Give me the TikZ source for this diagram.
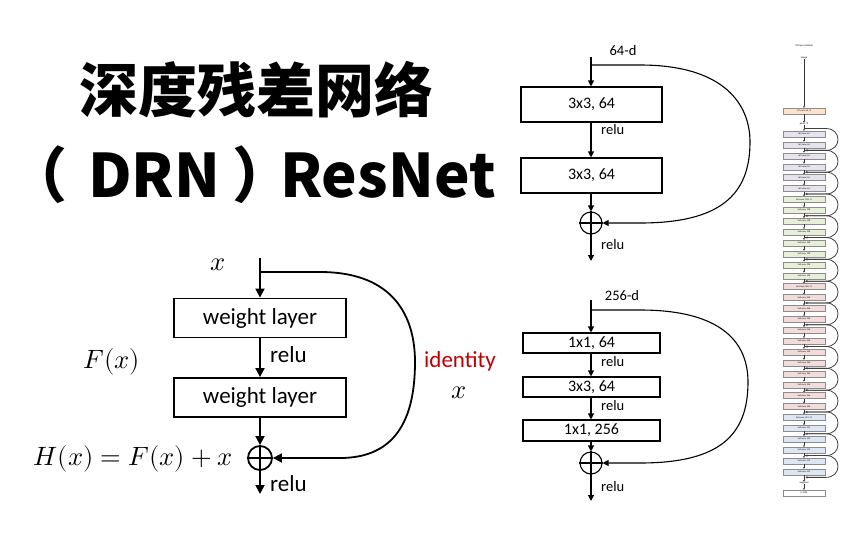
\documentclass[tikz,border=0pt]{standalone}
\usepackage{fontspec}
\usepackage{unicode-math}
\setmainfont{Carlito}
\newfontfamily\cjk{Noto Sans CJK SC}
\usetikzlibrary{arrows.meta}
\definecolor{idred}{HTML}{C00000}
\definecolor{mora}{HTML}{FBE3CC}
\definecolor{mpur}{HTML}{E6E2EE}
\definecolor{mgrn}{HTML}{E8EFD8}
\definecolor{mred}{HTML}{F2DCDB}
\definecolor{mblu}{HTML}{DDE6F2}
\tikzset{
  bigarr/.style={line width=1.8pt,-{Triangle[length=9pt,width=9pt]}},
  bigline/.style={line width=1.8pt},
  wl/.style={draw,line width=1.8pt,minimum width=172pt,minimum height=39pt,inner sep=0pt,font=\fontsize{23}{26}\selectfont},
  bigplus/.style={draw,circle,line width=1.8pt,minimum size=24pt,inner sep=0pt},
  bigtxt/.style={font=\fontsize{23}{26}\selectfont,inner sep=1pt},
  mathtxt/.style={font=\fontsize{26.5}{29}\selectfont,inner sep=1pt},
  smarr/.style={line width=1.1pt,-{Triangle[length=6pt,width=6pt]}},
  smline/.style={line width=1.1pt},
  sbox/.style={draw,line width=1.1pt,minimum width=141pt,inner sep=0pt,font=\fontsize{16}{18}\selectfont},
  smplus/.style={draw,circle,line width=1.1pt,minimum size=22pt,inner sep=0pt},
  smtxt/.style={font=\fontsize{14.5}{16}\selectfont,inner sep=1pt},
  mini/.style={draw=black!45,line width=0.3pt,minimum width=42pt,minimum height=6pt,inner sep=0pt,font=\fontsize{2.3}{2.5}\selectfont},
  minitxt/.style={font=\fontsize{2.6}{3}\selectfont,inner sep=0pt},
  miniarr/.style={line width=0.6pt,black!80,-{Triangle[length=1.6pt,width=1.8pt]}},
  miniarc/.style={line width=0.8pt,black!75,-{Triangle[length=1.8pt,width=2.2pt]}}
}
\begin{document}
\begin{tikzpicture}[x=1pt,y=-1pt]
\useasboundingbox (0,0) rectangle (868,539);
\fill[white] (0,0) rectangle (868,539);

% ---- title ----
\node[font=\cjk\bfseries\fontsize{59}{62}\selectfont,inner sep=0pt,anchor=base] (t1) at (256,112) {深度残差网络};
\node[font=\cjk\bfseries\fontsize{60}{64}\selectfont,inner sep=0pt,anchor=base east] (t2) at (496,197) {（\hspace{21pt}DRN\hspace{12pt}）\hspace{-12pt}ResNet};

% ---- left residual block ----
\coordinate (lx0) at (260,258);
\coordinate (lbr) at (260,272);
\node[wl] (w1) at (260,318) {weight layer};
\node[wl] (w2) at (260,397.5) {weight layer};
\node[bigplus] (p1) at (260,458) {};
\draw[bigline] (p1.north) -- (p1.south) (p1.west) -- (p1.east);
\coordinate (lout) at (260,494);
\draw[bigarr] (lx0) -- (w1.north);
\draw[bigarr] (w1.south) -- (w2.north);
\draw[bigarr] (w2.south) -- (p1.north);
\draw[bigarr] (p1.south) -- (lout);
\draw[bigarr] (lbr) -- (320,272) .. controls (395,272) and (415,318) .. (415,362)
   .. controls (415,420) and (395,458) .. (340,458) -- (p1.east);
\node[mathtxt] (lx) at (218,265) {$x$};
\node[bigtxt,anchor=west] (lr1) at (269,355) {relu};
\node[bigtxt,anchor=west] (lr2) at (269,484) {relu};
\node[mathtxt] (lF) at (112,362) {$F(x)$};
\node[bigtxt,text=idred] (lid) at (460,361) {identity};
\node[mathtxt] (lix) at (459,393) {$x$};
\node[mathtxt,anchor=east] (lH) at (234,459) {$H(x)=F(x)+x$};

% ---- top right block ----
\coordinate (a0) at (591,57);
\coordinate (abr) at (591,65);
\node[sbox,minimum height=35pt] (a1) at (591.5,104.5) {3x3, 64};
\node[sbox,minimum height=35pt] (a2) at (591.5,175.5) {3x3, 64};
\node[smplus] (ap) at (591,223) {};
\draw[smline] (ap.north) -- (ap.south) (ap.west) -- (ap.east);
\coordinate (aout) at (591,261);
\draw[smarr] (a0) -- (a1.north -| a0);
\draw[smarr] (a1.south -| a0) -- (a2.north -| a0);
\draw[smarr] (a2.south -| a0) -- (ap.north);
\draw[smarr] (ap.south) -- (aout);
\draw[smarr] (abr) -- (640,65) .. controls (725,65) and (750,105) .. (750,142)
   .. controls (750,195) and (720,223) .. (640,223) -- (ap.east);
\node[smtxt] (ad) at (623,51) {64-d};
\node[smtxt,anchor=west] (ar1) at (600,130) {relu};
\node[smtxt,anchor=west] (ar2) at (600,245) {relu};

% ---- bottom right block ----
\coordinate (b0) at (591,300);
\coordinate (bbr) at (591,310);
\node[sbox,minimum width=137pt,minimum height=20pt] (b1) at (591.5,343) {1x1, 64};
\node[sbox,minimum width=137pt,minimum height=20pt] (b2) at (591.5,387) {3x3, 64};
\node[sbox,minimum width=137pt,minimum height=21pt] (b3) at (591.5,430.5) {1x1, 256};
\node[smplus] (bp) at (591,463) {};
\draw[smline] (bp.north) -- (bp.south) (bp.west) -- (bp.east);
\coordinate (bout) at (591,501);
\draw[smarr] (b0) -- (b1.north -| b0);
\draw[smarr] (b1.south -| b0) -- (b2.north -| b0);
\draw[smarr] (b2.south -| b0) -- (b3.north -| b0);
\draw[smarr] (b3.south -| b0) -- (bp.north);
\draw[smarr] (bp.south) -- (bout);
\draw[smarr] (bbr) -- (640,310) .. controls (725,310) and (748,345) .. (748,382)
   .. controls (748,435) and (720,463) .. (640,463) -- (bp.east);
\node[smtxt] (bd) at (622,296) {256-d};
\node[smtxt,anchor=west] (br1) at (600,362) {relu};
\node[smtxt,anchor=west] (br2) at (600,406) {relu};
\node[smtxt,anchor=west] (br3) at (600,487) {relu};

% ---- miniature 34-layer residual ----
\node[minitxt] (mt) at (804,46) {34-layer residual};
\node[minitxt] (mim) at (804,58) {image};
\node[mini,fill=mora] (m77) at (804,111) {7x7 conv, 64, /2};
\node[minitxt] (mpool) at (804,124) {pool, /2};
\foreach \k in {0,...,5} \node[mini,fill=mpur] (m\k) at (804,{134+10.9*\k}) {3x3 conv, 64};
\node[mini,fill=mgrn] (m6) at (804,{134+10.9*6}) {3x3 conv, 128, /2};
\foreach \k in {7,...,13} \node[mini,fill=mgrn] (m\k) at (804,{134+10.9*\k}) {3x3 conv, 128};
\node[mini,fill=mred] (m14) at (804,{134+10.9*14}) {3x3 conv, 256, /2};
\foreach \k in {15,...,25} \node[mini,fill=mred] (m\k) at (804,{134+10.9*\k}) {3x3 conv, 256};
\node[mini,fill=mblu] (m26) at (804,{134+10.9*26}) {3x3 conv, 512, /2};
\foreach \k in {27,...,31} \node[mini,fill=mblu] (m\k) at (804,{134+10.9*\k}) {3x3 conv, 512};
\node[minitxt] (mavg) at (804,483) {avg pool};
\node[mini,fill=white] (mfc) at (804,493) {fc 1000};
\draw[miniarr] (mim) -- (m77);
\draw[miniarr] (m77) -- (mpool);
\draw[miniarr] (mpool) -- (m0);
\foreach \k [evaluate=\k as \n using int(\k+1)] in {0,...,30} \draw[miniarr] (m\k) -- (m\n);
\draw[miniarr] (m31) -- (mavg);
\draw[miniarr] (mavg) -- (mfc);
\foreach \j in {0,...,15} {
  \pgfmathsetmacro{\ys}{134+21.8*\j-5.45}
  \pgfmathsetmacro{\ye}{\ys+21.8}
  \draw[miniarc] (804,\ys) -- (826,\ys) .. controls (842,\ys) and (842,\ye) .. (826,\ye) -- (805.5,\ye);
}
\end{tikzpicture}
\end{document}
